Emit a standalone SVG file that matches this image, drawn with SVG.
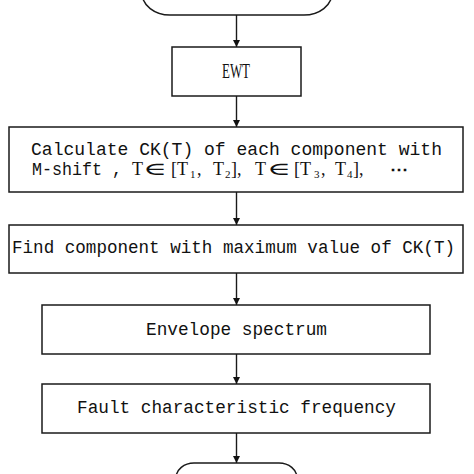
<svg xmlns="http://www.w3.org/2000/svg" width="474" height="474" viewBox="0 0 474 474">
<defs>
<style>
.box{fill:#fff;stroke:#1a1a1a;stroke-width:1.5}
.mono{font-family:"Liberation Mono","DejaVu Sans Mono",monospace;font-size:17.6px;fill:#111}
.serif{font-family:"Liberation Serif","DejaVu Serif",serif;font-size:18px;fill:#111}
.sub{font-size:11px}
.conn{stroke:#1a1a1a;stroke-width:1.4;fill:none;marker-end:url(#arr)}
</style>
<marker id="arr" viewBox="0 0 10 10" refX="10" refY="5" markerUnits="userSpaceOnUse" markerWidth="7.5" markerHeight="11" orient="auto">
<path d="M0,0 L10,5 L0,10 Z" fill="#111"/>
</marker>
</defs>
<rect width="474" height="474" fill="#fff"/>
<g id="connectors">
<line class="conn" x1="236.5" y1="15" x2="236.5" y2="47"/>
<line class="conn" x1="236.5" y1="96" x2="236.5" y2="127"/>
<line class="conn" x1="236.5" y1="192" x2="236.5" y2="225"/>
<line class="conn" x1="236.5" y1="273" x2="236.5" y2="305"/>
<line class="conn" x1="236.5" y1="354" x2="236.5" y2="384"/>
<line class="conn" x1="236.5" y1="433" x2="236.5" y2="463"/>
</g>
<g id="start">
<rect class="box" x="142" y="-40" width="190" height="55" rx="28" ry="22"/>
</g>
<g id="ewt">
<rect class="box" x="172" y="47" width="129" height="49"/>
<text class="serif" x="222" y="78" style="font-size:22px" textLength="28" lengthAdjust="spacingAndGlyphs">EWT</text>
</g>
<g id="calc">
<rect class="box" x="9" y="127" width="454" height="65"/>
<text class="mono" x="31" y="155" textLength="411" lengthAdjust="spacingAndGlyphs">Calculate CK(T) of each component with</text>
<text class="mono" x="32" y="175" textLength="90" lengthAdjust="spacingAndGlyphs">M-shift ,</text>
<text class="serif"><tspan x="132" y="175">T</tspan><tspan x="171" y="175">[T</tspan><tspan class="sub" x="190" y="178">1</tspan><tspan x="197" y="175">,</tspan><tspan x="213" y="175">T</tspan><tspan class="sub" x="225" y="178">2</tspan><tspan x="231" y="175">],</tspan><tspan x="255" y="175">T</tspan><tspan x="294" y="175">[T</tspan><tspan class="sub" x="314" y="178">3</tspan><tspan x="321" y="175">,</tspan><tspan x="335" y="175">T</tspan><tspan class="sub" x="347" y="178">4</tspan><tspan x="353" y="175">],</tspan><tspan x="390" y="175" style="font-weight:bold">⋯</tspan></text>
<text class="serif" transform="translate(143,175) scale(1.8,1)">∈</text>
<text class="serif" transform="translate(267,175) scale(1.8,1)">∈</text>
</g>
<g id="find">
<rect class="box" x="9" y="225" width="454" height="48"/>
<text class="mono" x="12" y="253" textLength="443" lengthAdjust="spacingAndGlyphs">Find component with maximum value of CK(T)</text>
</g>
<g id="envelope">
<rect class="box" x="42" y="305" width="388" height="49"/>
<text class="mono" x="146" y="335" textLength="181" lengthAdjust="spacingAndGlyphs">Envelope spectrum</text>
</g>
<g id="fault">
<rect class="box" x="42" y="384" width="388" height="49"/>
<text class="mono" x="77" y="413" textLength="319" lengthAdjust="spacingAndGlyphs">Fault characteristic frequency</text>
</g>
<g id="end">
<rect class="box" x="176" y="463" width="121" height="50" rx="18" ry="15"/>
</g>
</svg>
